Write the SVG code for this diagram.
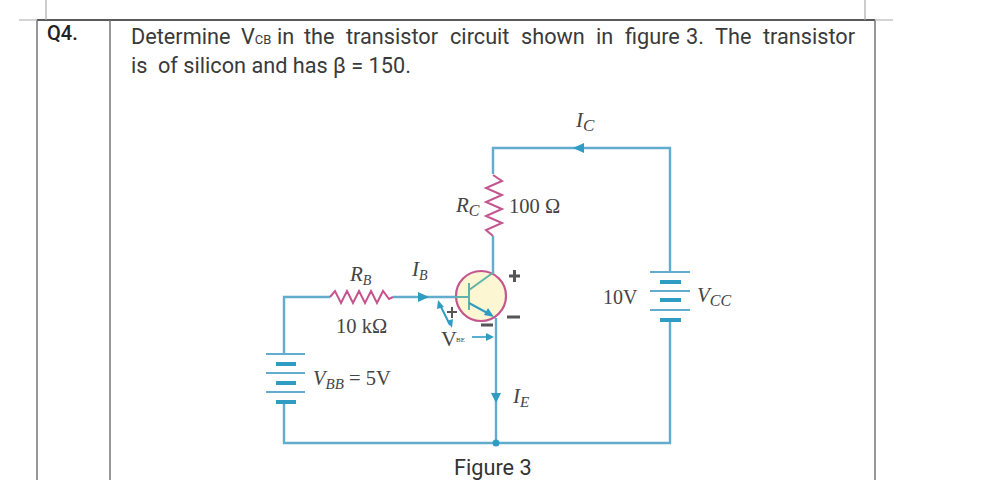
<svg xmlns="http://www.w3.org/2000/svg" width="996" height="480" viewBox="0 0 996 480">
<style>
.t{font-family:Roboto,"Liberation Sans",sans-serif;font-size:21.700px;fill:#3a3a3a}
.s{font-family:"Liberation Serif",serif;fill:#444}
.i{font-style:italic}
.w{fill:none;stroke:#62accd;stroke-width:2.4}
.p{fill:none;stroke:#62accd;stroke-width:1.800}
.k{fill:none;stroke:#2f9cc4;stroke-width:4}
.r{fill:none;stroke:#c4558f;stroke-width:2}
.a{fill:#2f9cc4}
.g{stroke:#777;stroke-width:1.500;fill:none}
.m{stroke:#555;stroke-width:3;fill:none}
</style>
<rect width="996" height="480" fill="#fff"/>
<g id="table">
<path d="M37 20H875" stroke="#222" stroke-width="1.500" fill="none"/>
<path class="g" d="M37 20V480M110 20V480M875 20V480"/>
<path d="M19 20H37M875 20H893M46 0V20M865 0V20" stroke="#aaa" stroke-width="1.200" fill="none"/>
</g>
<g id="question">
<text x="47" y="40" style="font-family:Roboto,sans-serif;font-size:20px;font-weight:500;fill:#222">Q4.</text>
<text class="t" y="44"><tspan x="131">Determine</tspan><tspan x="241">V</tspan><tspan style="font-size:13px">CB</tspan><tspan x="277">in</tspan><tspan x="304">the</tspan><tspan x="346">transistor</tspan><tspan x="450">circuit</tspan><tspan x="521">shown</tspan><tspan x="596">in</tspan><tspan x="625">figure</tspan><tspan x="686">3.</tspan><tspan x="715">The</tspan><tspan x="763">transistor</tspan></text>
<text class="t" y="73"><tspan x="131">is</tspan><tspan x="158">of silicon and has β = 150.</tspan></text>
</g>
<g id="connectors">
<path class="w" d="M493 174V148H670V272M670 320V443H284V402M284 354V297H330M393 297H455M493 236V272M496 318V443"/>
<path class="a" d="M573 148L584 143V153ZM429 297L418 292V302ZM496 403L491 393H501Z"/>
</g>
<g id="rb">
<path class="r" d="M330 297L335 291L341 303L347 291L353 303L359 291L365 303L371 291L377 303L383 291L389 299L393 297"/>
<text class="s i" x="350" y="281" font-size="21">R<tspan dy="4" style="font-size:14px">B</tspan></text>
<text class="s" x="336" y="333" font-size="20.500">10 kΩ</text>
</g>
<g id="rc">
<path class="r" d="M493 175L502 181L486 188L502 195L486 202L502 209L486 216L502 223L486 230L493 236"/>
<text class="s i" x="456" y="212" font-size="21">R<tspan dy="4" style="font-size:16px">C</tspan></text>
<text class="s" x="509" y="213" font-size="20.500">100 Ω</text>
</g>
<g id="transistor">
<circle cx="481" cy="296" r="25" fill="#fdf6d2" stroke="#c4558f" stroke-width="2.200"/>
<path d="M469 283V310M469 290L494 272M455 297H469" fill="none" stroke="#5fb3a8" stroke-width="2"/>
<path d="M469 303L491 315" stroke="#2f9cc4" stroke-width="2" fill="none"/>
<path class="a" d="M494 317L484 315L488 308Z"/>
<path class="m" d="M481 325H493M507 317H520M509 276H520M514.500 270V282"/>
</g>
<g id="vbe">
<path d="M440 305L450 325" stroke="#2f9cc4" stroke-width="2" fill="none"/>
<path class="a" d="M438 300L444 307L437 309ZM452 328L447 321L453 319Z"/>
<path d="M447 312H457M452 307V318" stroke="#555" stroke-width="2" fill="none"/>
<text class="s" x="441" y="346" font-size="22">V</text>
<text class="s" x="456" y="342" font-size="7">BE</text>
<path d="M472 337H488" stroke="#2f9cc4" stroke-width="1.600" fill="none"/>
<path class="a" d="M494 337L486 333V341Z"/>
</g>
<g id="ib"><text class="s i" x="412" y="276" font-size="21">I<tspan dy="4" style="font-size:14px">B</tspan></text></g>
<g id="ic"><text class="s i" x="576" y="127" font-size="21">I<tspan dy="4" style="font-size:17px">C</tspan></text></g>
<g id="ie"><text class="s i" x="513" y="403" font-size="21">I<tspan dy="4" style="font-size:15px">E</tspan></text></g>
<g id="vbb">
<path class="p" d="M266 354H305M266 373H305M266 392H305"/>
<path class="k" d="M276 364H296M276 383H296M276 402H296"/>
<text class="s i" x="313" y="385" font-size="20.500">V<tspan dy="4" style="font-size:15px">BB</tspan><tspan dy="-4" style="font-style:normal"> = 5V</tspan></text>
</g>
<g id="vcc">
<path class="p" d="M650 272H690M650 291H690M650 310H690"/>
<path class="k" d="M660 282H681M660 300H681M660 320H681"/>
<text class="s" x="603" y="304" font-size="20">10V</text>
<text class="s i" x="697" y="302" font-size="21">V<tspan dy="4" style="font-size:16px">CC</tspan></text>
</g>
<circle id="junction" cx="496" cy="443" r="3.500" class="a"/>
<text id="caption" x="454" y="475" style="font-family:Roboto,sans-serif;font-size:21.700px;fill:#333">Figure 3</text>
</svg>
